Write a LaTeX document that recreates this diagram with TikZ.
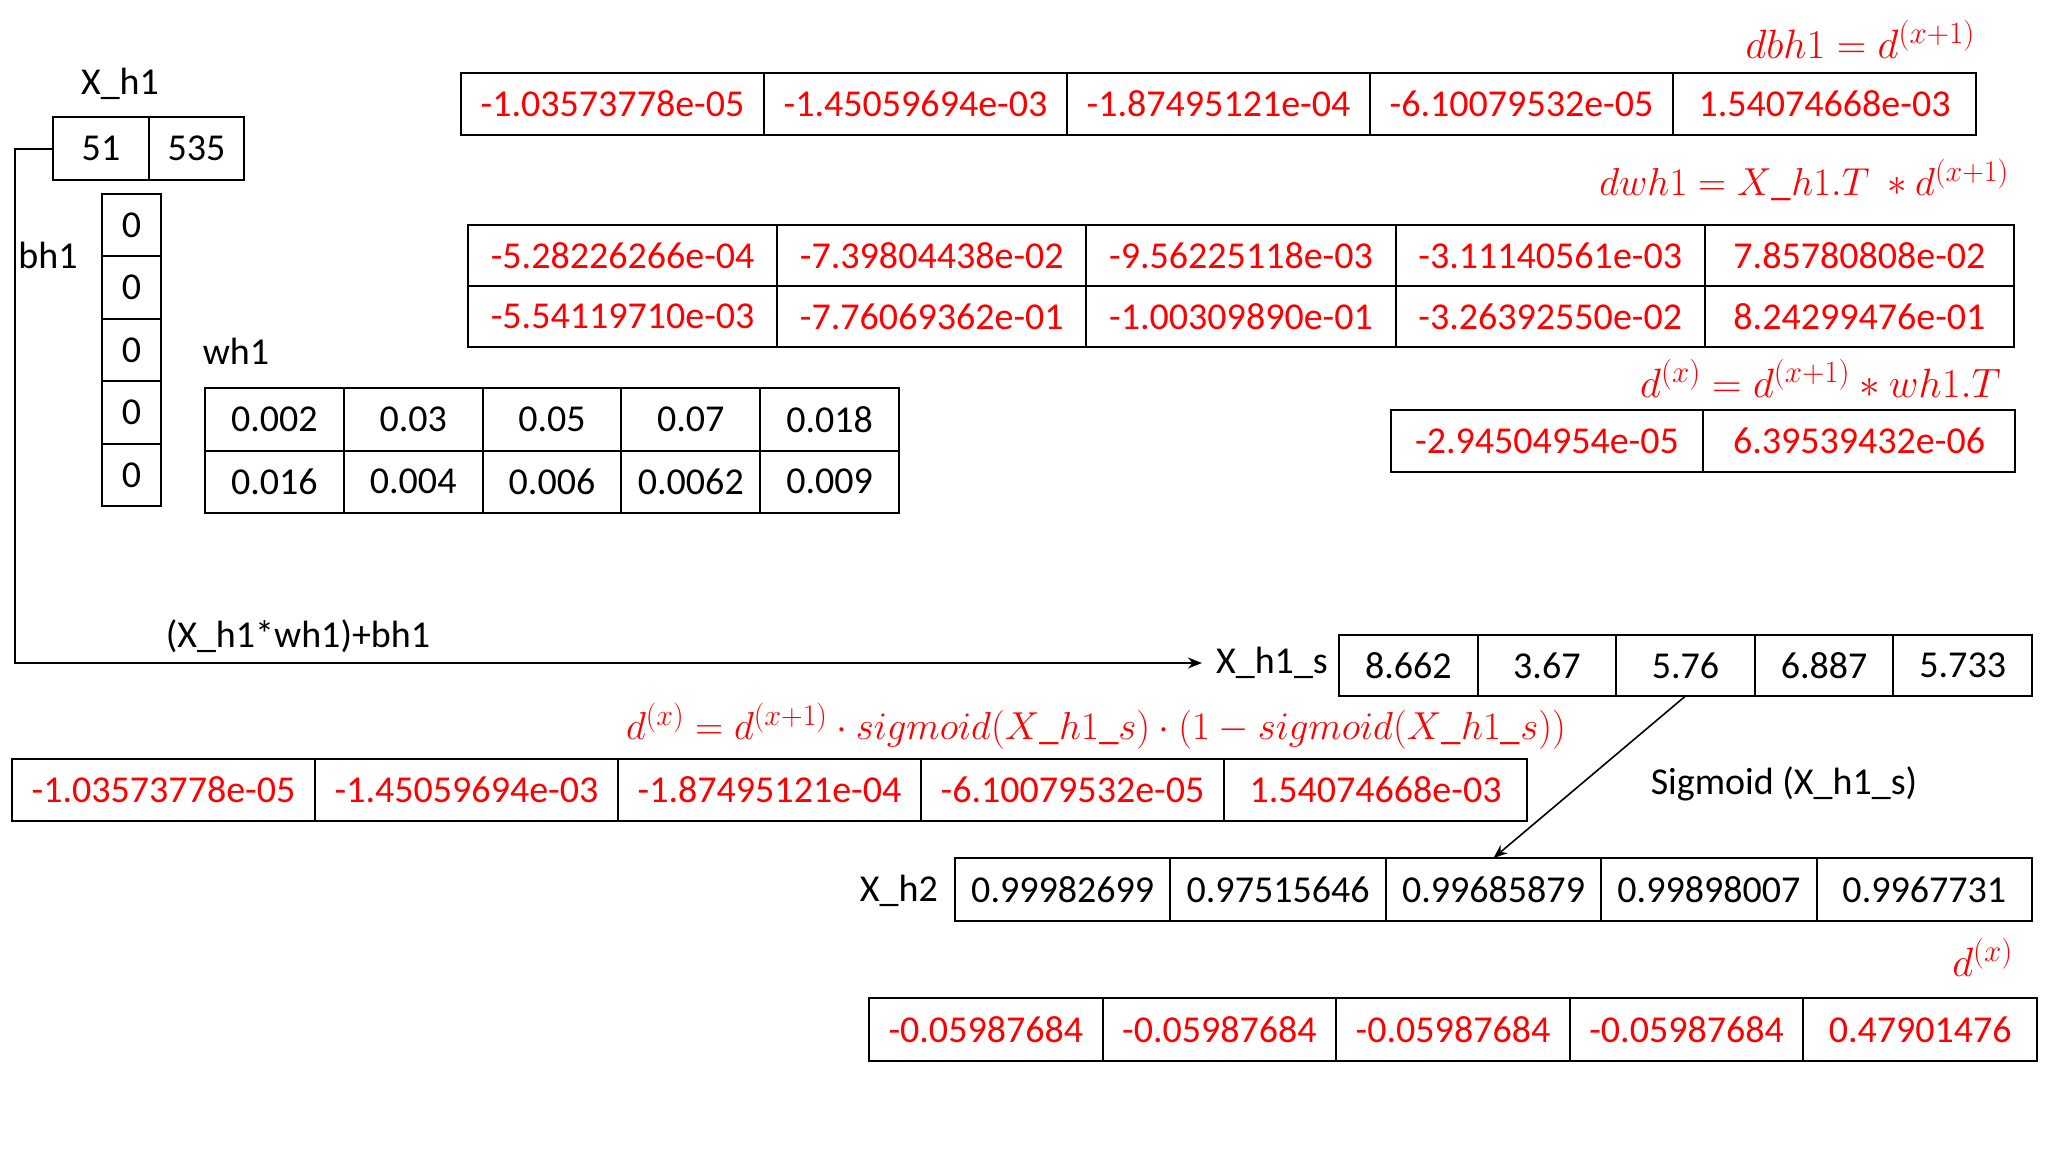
\RequirePackage{fix-cm}
\documentclass[tikz,border=0pt]{standalone}
\usepackage{fontspec}
\setmainfont{Carlito}
\usetikzlibrary{arrows.meta}
\DeclareMathSizes{41}{41}{31}{24}
\DeclareMathSizes{39}{39}{30}{23}
\newcommand\myfs{\fontsize{38pt}{44pt}\selectfont}
\newcommand\myeqfs{\fontsize{41pt}{48pt}\selectfont}
\newcommand\myeqsfs{\fontsize{39pt}{46pt}\selectfont}
\begin{document}
\begin{tikzpicture}[x=1pt,y=-1pt,
  cell/.style={draw, line width=2pt, inner sep=0pt, outer sep=0pt, anchor=north west, font=\myfs},
  rcell/.style={cell, text=red},
  lbl/.style={font=\myfs, inner sep=2pt},
  eq/.style={text=red, font=\myeqfs, inner sep=0pt},
  eqs/.style={eq, font=\myeqsfs},
  conn/.style={line width=2pt, -{Stealth[length=14pt,width=11pt]}}]
\useasboundingbox[fill=white] (0,0) rectangle (2048,1152);

% X_h1
\node[lbl] (lxh1) at (120,84) {X\_h1};
\node[cell, minimum width=96pt, minimum height=63pt] (xa) at (53,117) {51};
\node[cell, minimum width=95pt, minimum height=63pt] (xb) at (149,117) {535};

% bh1
\node[lbl] (lbh1) at (48,255) {bh1};
\foreach \i in {1,...,5}
  \node[cell, minimum width=59pt, minimum height=62.4pt] (bh\i) at (102,{194+(\i-1)*62.4}) {0};

% wh1
\node[lbl] (lwh1) at (236,351) {wh1};
\foreach \t [count=\i] in {0.002,0.03,0.05,0.07,0.018}
  \node[cell, minimum width=138.8pt, minimum height=62.5pt] (wa\i) at ({205+(\i-1)*138.8},388) {\t};
\foreach \t [count=\i] in {0.016,0.004,0.006,0.0062,0.009}
  \node[cell, minimum width=138.8pt, minimum height=62.5pt] (wb\i) at ({205+(\i-1)*138.8},450.5) {\t};

% dbh1
\node[eq, anchor=east] (e1) at (1975,39) {$dbh1 = d^{(x+1)}$};
\foreach \t [count=\i] in {-1.03573778e-05,-1.45059694e-03,-1.87495121e-04,-6.10079532e-05,1.54074668e-03}
  \node[rcell, minimum width=303pt, minimum height=62pt] (db\i) at ({461+(\i-1)*303},73) {\t};

% dwh1
\node[eqs, anchor=east] (e2) at (2009,180) {$dwh1 = X\_h1.T\ \ast d^{(x+1)}$};
\foreach \t [count=\i] in {-5.28226266e-04,-7.39804438e-02,-9.56225118e-03,-3.11140561e-03,7.85780808e-02}
  \node[rcell, minimum width=309.2pt, minimum height=61pt] (dwa\i) at ({468+(\i-1)*309.2},225) {\t};
\foreach \t [count=\i] in {-5.54119710e-03,-7.76069362e-01,-1.00309890e-01,-3.26392550e-02,8.24299476e-01}
  \node[rcell, minimum width=309.2pt, minimum height=61pt] (dwb\i) at ({468+(\i-1)*309.2},286) {\t};

% d(x) = d(x+1) * wh1.T
\node[eq, anchor=east] (e3) at (2001,378) {$d^{(x)} = d^{(x+1)} \ast wh1.T$};
\foreach \t [count=\i] in {-2.94504954e-05,6.39539432e-06}
  \node[rcell, minimum width=312pt, minimum height=62pt] (dx\i) at ({1391+(\i-1)*312},410) {\t};

% X_h1_s
\node[lbl, anchor=east] (xs) at (1330,663) {X\_h1\_s};
\foreach \t [count=\i] in {8.662,3.67,5.76,6.887,5.733}
  \node[cell, minimum width=138.6pt, minimum height=61pt] (s\i) at ({1339+(\i-1)*138.6},635) {\t};

% sum connector
\node[lbl] (lsum) at (298,636) {(X\_h1*wh1)+bh1};
\draw[conn] (xa.west) -- ++(-38,0) |- ([xshift=-12pt]xs.west);

% sigmoid derivative
\node[eqs] (e4) at (1096,726) {$d^{(x)} = d^{(x+1)}\cdot sigmoid(X\_h1\_s)\cdot(1-sigmoid(X\_h1\_s))$};
\foreach \t [count=\i] in {-1.03573778e-05,-1.45059694e-03,-1.87495121e-04,-6.10079532e-05,1.54074668e-03}
  \node[rcell, minimum width=303pt, minimum height=62pt] (dd\i) at ({12+(\i-1)*303},759) {\t};

% X_h2
\node[lbl] (lsig) at (1784,784) {Sigmoid (X\_h1\_s)};
\node[lbl, anchor=east] (lxh2) at (940,891) {X\_h2};
\foreach \t [count=\i] in {0.99982699,0.97515646,0.99685879,0.99898007,0.9967731}
  \node[cell, minimum width=215.4pt, minimum height=63pt] (h\i) at ({955+(\i-1)*215.4},858) {\t};
\draw[conn, line width=1.6pt] (s3.south) -- (h3.north);

% final d(x)
\node[eq, anchor=east] (e5) at (2013,957) {$d^{(x)}$};
\foreach \t [count=\i] in {-0.05987684,-0.05987684,-0.05987684,-0.05987684,0.47901476}
  \node[rcell, minimum width=233.6pt, minimum height=63pt] (f\i) at ({869+(\i-1)*233.6},998) {\t};
\end{tikzpicture}
\end{document}
